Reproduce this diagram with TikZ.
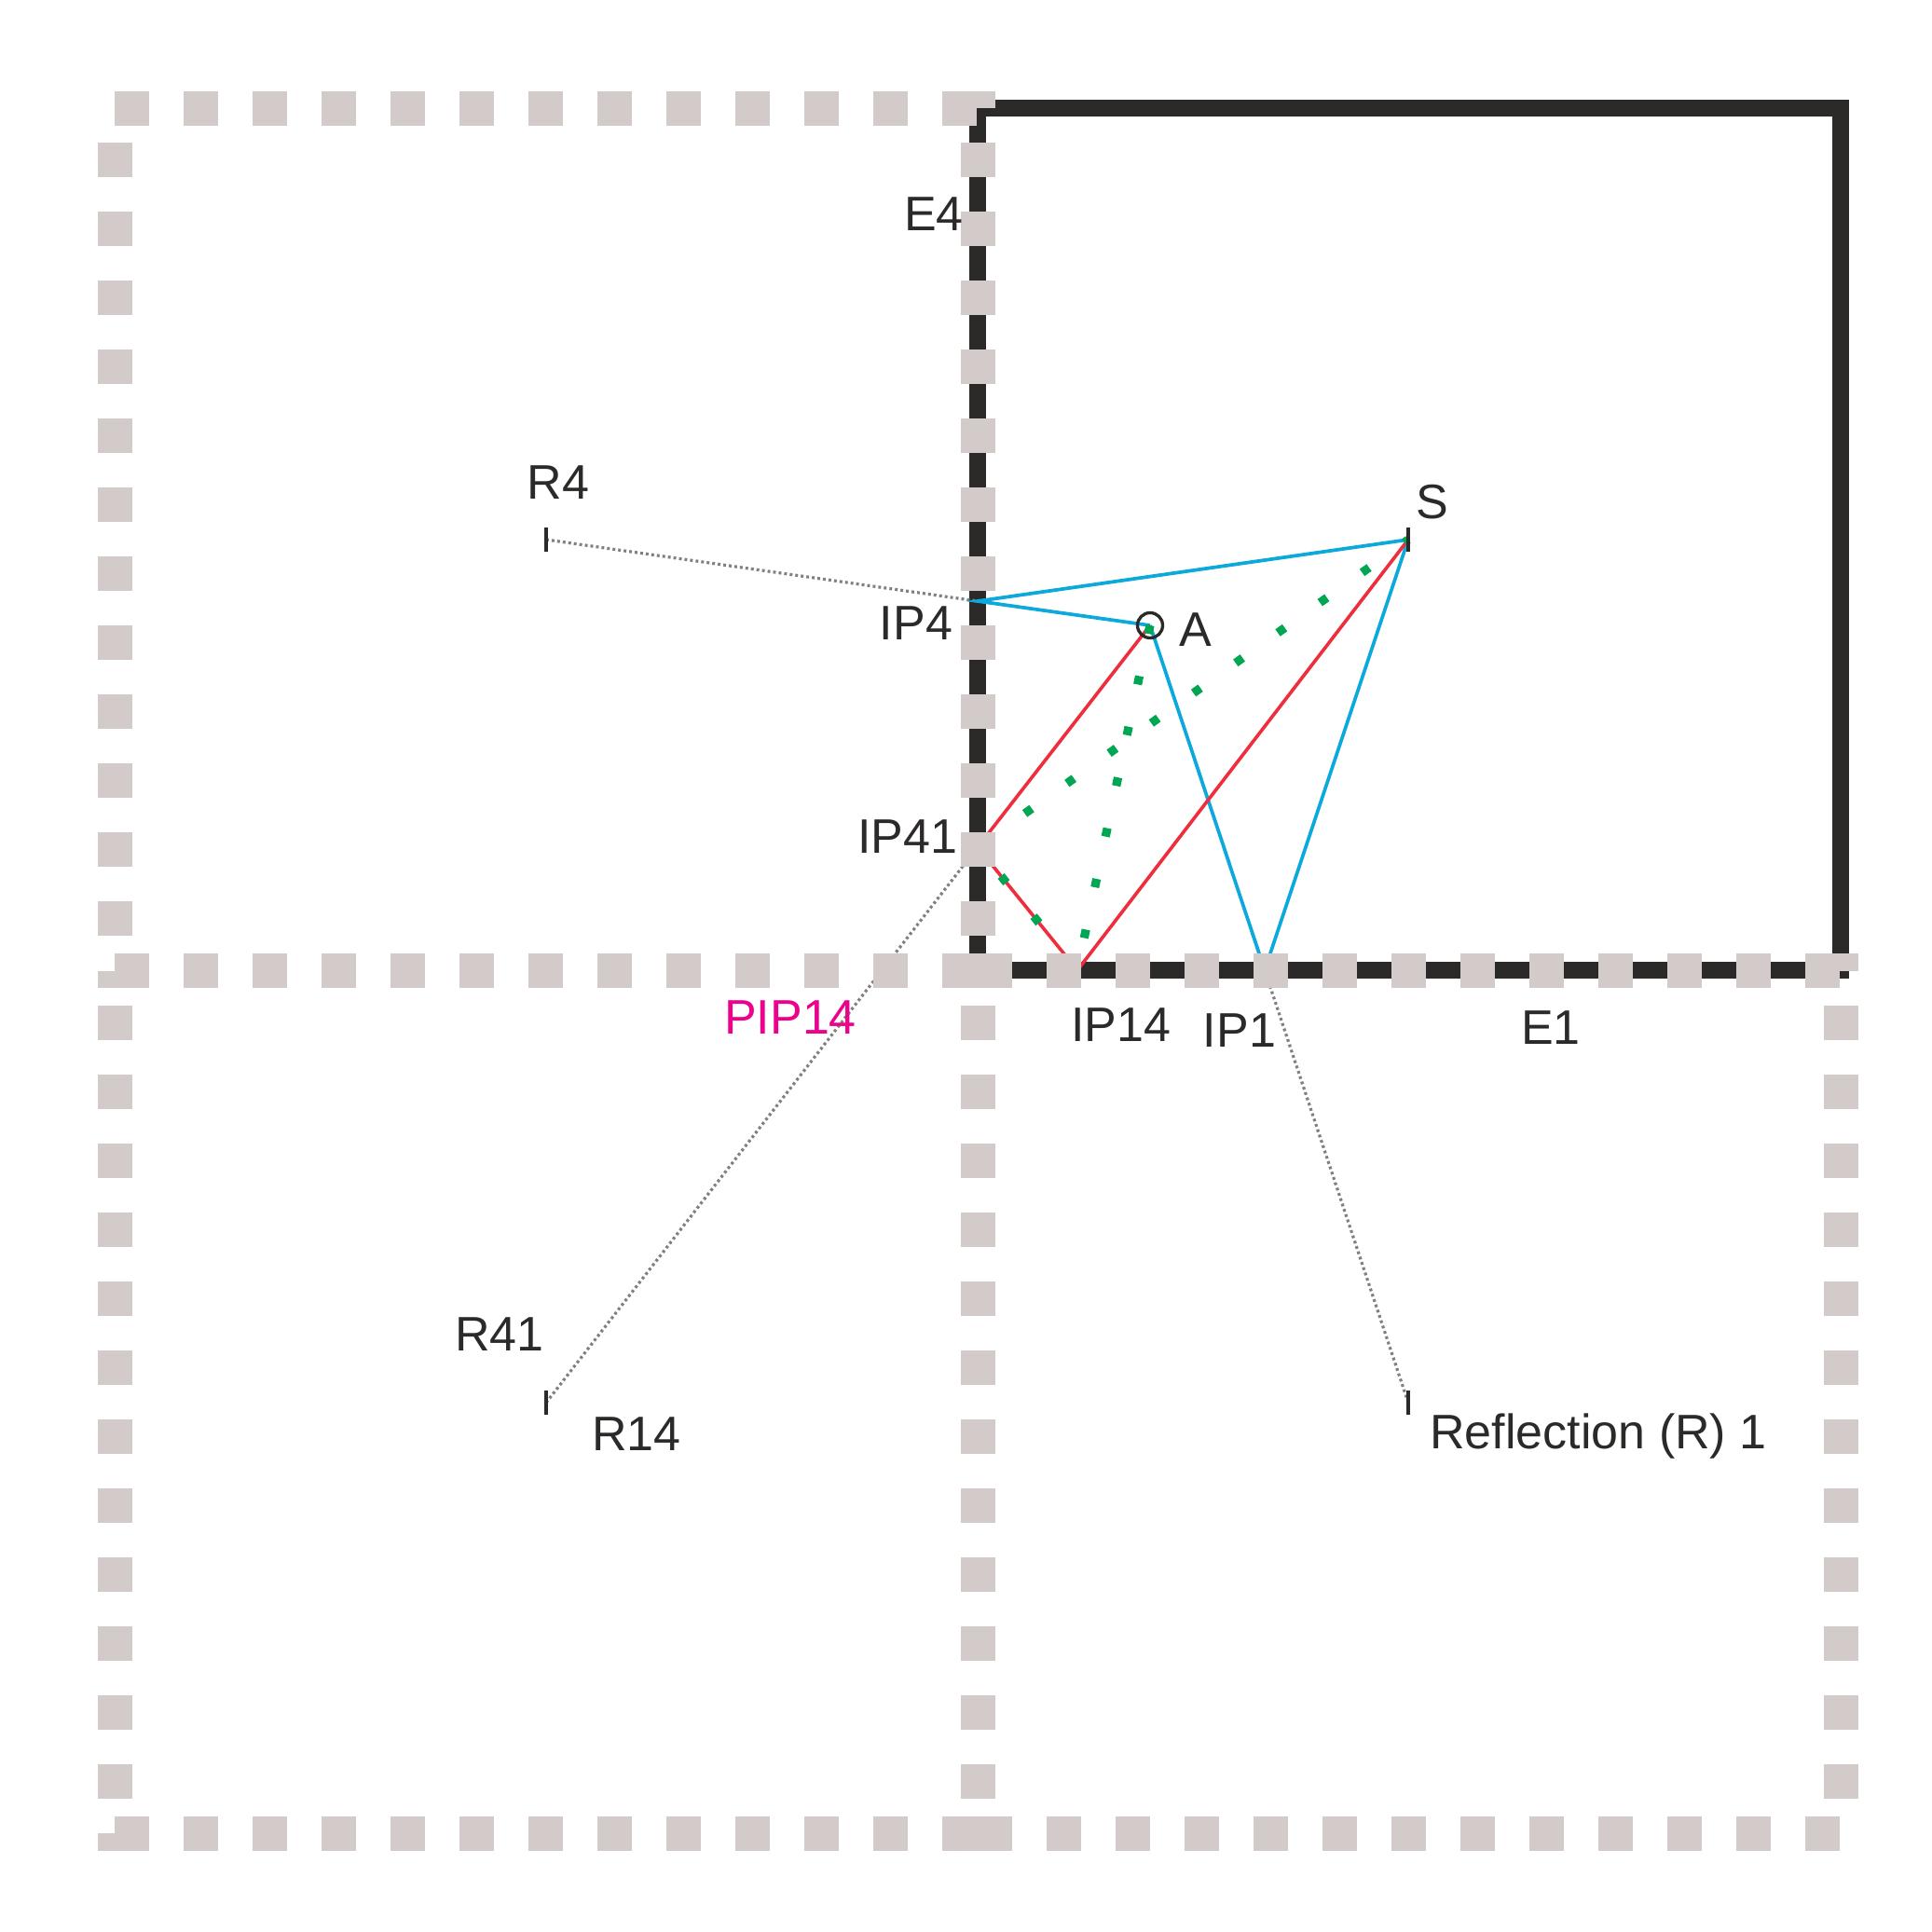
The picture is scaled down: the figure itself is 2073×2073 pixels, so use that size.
\documentclass[tikz,border=0pt]{standalone}
\usepackage{fontspec}
\setmainfont{Liberation Sans}

\definecolor{edgeblack}{HTML}{2B2A29}
\definecolor{mirrorgrey}{HTML}{D3CBC9}
\definecolor{pathblue}{HTML}{0DA9DC}
\definecolor{pathred}{HTML}{EE2D3D}
\definecolor{pathgreen}{HTML}{00A651}
\definecolor{pipmagenta}{HTML}{EC008C}

\tikzset{every picture/.style={line width=0.75pt}}
\tikzset{
	wallline/.style={draw=edgeblack,line width=14.2pt,line join=miter},
	mirrorline/.style={draw=mirrorgrey,line width=27.75pt,dash pattern={on 27.75pt off 27.75pt}},
	mirrorend/.style={draw=mirrorgrey,line width=27.75pt},
	bluepath/.style={draw=pathblue,line width=2.8pt},
	redpath/.style={draw=pathred,line width=2.7pt},
	greenpath/.style={draw=pathgreen,line width=6.9pt,dash pattern={on 6.9pt off 34.8pt}},
	greyray/.style={draw=black!50,line width=2.4pt,dash pattern={on 2.2pt off 2.3pt}},
	tickmark/.style={draw=edgeblack,line width=3pt},
	lbl/.style={text=edgeblack,font=\fontsize{39}{47}\selectfont,inner sep=0pt},
}

\begin{document}
\begin{tikzpicture}[x=0.75pt,y=0.75pt,yscale=-1,xscale=1]
	\useasboundingbox (0,0) rectangle (2073,2073);

	% Points
	\coordinate (S) at (1511,579);
	\coordinate (A) at (1234,671);
	\coordinate (R4) at (586,579);
	\coordinate (R1) at (1511,1505);
	\coordinate (R14) at (586,1505);
	\coordinate (IP4) at (1049,645);
	\coordinate (IP1) at (1357,1041);
	\coordinate (IP41) at (1049,909);
	\coordinate (IP14) at (1156,1041);

	% Room walls
	\draw [wallline] (1049,116) -- (1975,116) -- (1975,1041) -- (1049,1041) -- cycle ;

	% Image rays
	\draw [greyray] (R4) -- (IP4) ;
	\draw [greyray] (R1) -- (IP1) ;
	\draw [greyray] (R14) -- (IP41) ;

	% First order
	\draw [bluepath] (S) -- (IP4) -- (A) ;
	\draw [bluepath] (S) -- (IP1) -- (A) ;
	% Second order
	\draw [redpath] (S) -- (IP14) -- (IP41) -- (A) ;
	% Wrong paths
	\draw [greenpath,dash phase=3pt] (S) -- (IP41) -- (IP14) ;
	\draw [greenpath] (A) -- (IP14) ;

	% Markers
	\draw [tickmark] (S) ++(0,-13) -- ++(0,26) ;
	\draw [tickmark] (R4) ++(0,-13) -- ++(0,26) ;
	\draw [tickmark] (R1) ++(0,-13) -- ++(0,26) ;
	\draw [tickmark] (R14) ++(0,-13) -- ++(0,26) ;
	\draw [draw=edgeblack,line width=2.5pt] (A) circle (13.5) ;

	% Mirrored rooms, rows
	\foreach \rowy in {116,1041.5,1967} {
		\draw [mirrorline] (123,\rowy) -- (1049,\rowy) ;
	}
	\foreach \rowy in {1041.5,1967} {
		\draw [mirrorline] (1049,\rowy) -- (1975,\rowy) ;
	}
	% Mirrored rooms, columns
	\foreach \colx in {123,1049} {
		\draw [mirrorline] (\colx,153) -- (\colx,1005) ;
	}
	\foreach \colx in {123,1049,1975} {
		\draw [mirrorline] (\colx,1079) -- (\colx,1931) ;
	}
	% Corner pieces
	\draw [mirrorend] (1049,116) -- (1049,97.5) ;
	\draw [mirrorend] (123,1060) -- (123,1041.5) ;
	\draw [mirrorend] (123,1986) -- (123,1967) ;
	\draw [mirrorend] (1975,1041.5) -- (1975,1023) ;
	\draw [mirrorend] (1047,1041.5) -- (1051,1041.5) ;
	\draw [mirrorend] (1047,1967) -- (1051,1967) ;
	\draw [mirrorend] (1049,1986) -- (1049,1967) ;

	% Text Node
	\node [lbl] (lblE4) at (1002,230) {E4};
	% Text Node
	\node [lbl] (lblR4) at (599,518) {R4};
	% Text Node
	\node [lbl] (lblS) at (1537,539) {S};
	% Text Node
	\node [lbl] (lblIP4) at (983,669) {IP4};
	% Text Node
	\node [lbl] (lblA) at (1283,676) {A};
	% Text Node
	\node [lbl] (lblIP41) at (974,898) {IP41};
	% Text Node
	\node [lbl,text=pipmagenta] (lblPIP14) at (848,1092) {PIP14};
	% Text Node
	\node [lbl] (lblIP14) at (1203,1100) {IP14};
	% Text Node
	\node [lbl] (lblIP1) at (1330,1106) {IP1};
	% Text Node
	\node [lbl] (lblE1) at (1664,1103) {E1};
	% Text Node
	\node [lbl] (lblR41) at (536,1432) {R41};
	% Text Node
	\node [lbl] (lblR14) at (683,1539) {R14};
	% Text Node
	\node [lbl] (lblR1) at (1715,1541) {Reflection (R) 1};

\end{tikzpicture}
\end{document}
